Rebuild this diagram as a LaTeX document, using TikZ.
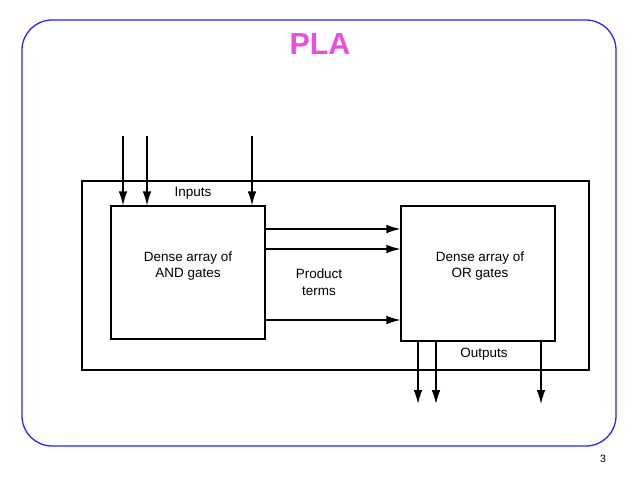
\documentclass[tikz,border=0pt]{standalone}
\usepackage{fontspec}
\setmainfont{Liberation Sans}
\usetikzlibrary{arrows.meta,positioning}
\definecolor{frameblue}{RGB}{40,40,230}
\definecolor{titlemag}{RGB}{230,80,220}
\tikzset{
  blk/.style={draw, line width=1.1pt, inner sep=0pt},
  sig/.style={line width=1.1pt, -{Latex[length=4.2mm,width=2.6mm]}},
  lbl/.style={font=\fontsize{11.5}{14}\selectfont, align=center, inner sep=0pt}
}
\begin{document}
\begin{tikzpicture}[x=0.03cm, y=-0.03cm]
\useasboundingbox (0,0) rectangle (638,478);
\draw[frameblue, line width=1.1pt, rounded corners=0.9cm] (22,20) rectangle (616,446);
\node[titlemag, font=\fontsize{26}{30}\selectfont\bfseries] (title) at (320,44) {PLA};

% chip outline and the two arrays
\draw[blk] (82,181) rectangle (589,370);
\node[blk, minimum width=154*0.03cm, minimum height=133*0.03cm] (and) at (188,272.5) {};
\node[blk, minimum width=154*0.03cm, minimum height=135*0.03cm] (or) at (478,273.5) {};
\node[lbl] (andtxt) at (188,266) {Dense array of\\AND gates};
\node[lbl] (ortxt) at (480,266) {Dense array of\\OR gates};
\node[lbl] (inlbl) at (193,193) {Inputs};
\node[lbl] (outlbl) at (484,354) {Outputs};
\node[lbl] (ptlbl) at (319,282) {Product\\terms};
\node[font=\fontsize{9}{11}\selectfont] (page) at (603,459) {3};

% inputs
\foreach \x [count=\i] in {123,147,252} {
  \coordinate (in\i) at (\x,136);
  \draw[sig] (in\i) -- (in\i |- and.north);
}
% product terms
\foreach \y [count=\i] in {229,249,320} {
  \coordinate (pt\i) at (and.east |- 0,\y);
  \draw[sig] (pt\i) -- (or.west |- pt\i);
}
% outputs
\foreach \x [count=\i] in {418,436,541} {
  \coordinate (out\i) at (\x,404);
  \draw[sig] (or.south -| out\i) -- (out\i);
}
\end{tikzpicture}
\end{document}
